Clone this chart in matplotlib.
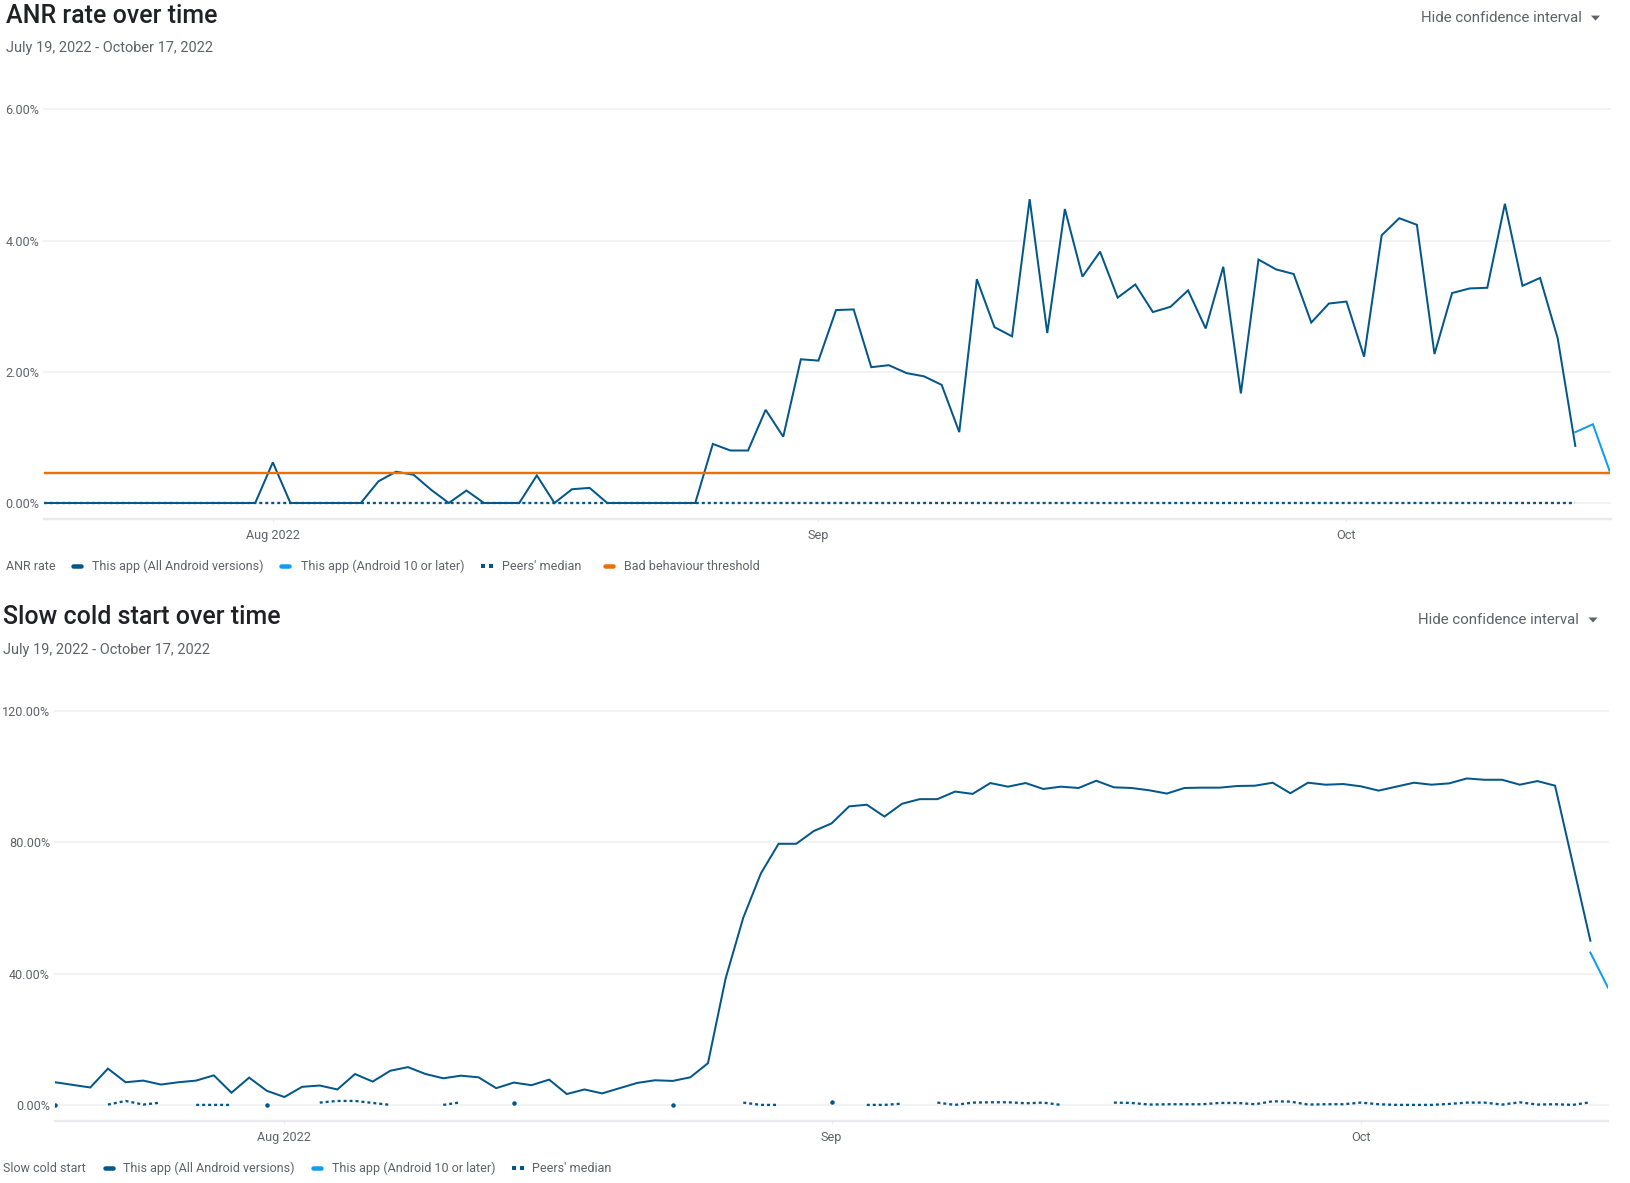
import numpy as np
import pandas as pd
import matplotlib
matplotlib.use('Agg')
import matplotlib.pyplot as plt
from matplotlib.lines import Line2D
from matplotlib.patches import Polygon

W, H = 1631, 1183
nan = np.nan

# ANR chart, daily values from Jul 19
anr_all = [0]*13 + [0.62] + [0]*5 + [0.33, 0.477, 0.43, 0.20, 0, 0.19, 0, 0, 0, 0.42, 0, 0.21, 0.23] + [0]*6 + [
    0.90, 0.80, 0.80, 1.42, 1.01, 2.19, 2.17, 2.94, 2.95, 2.07, 2.10, 1.98, 1.93, 1.80, 1.08, 3.41,
    2.68, 2.54, 4.63, 2.59, 4.48, 3.45, 3.83, 3.13, 3.33, 2.91, 2.99, 3.24, 2.66, 3.60, 1.67, 3.71,
    3.56, 3.49, 2.75, 3.04, 3.07, 2.23, 4.08, 4.34, 4.24, 2.27, 3.20, 3.27, 3.28, 4.56, 3.31, 3.43,
    2.51, 0.87]
anr_10 = [1.08, 1.20, 0.45]
anr_peers = [0]*88
anr_threshold = 0.46

# Slow cold start chart
cold_all = [6.9, 6.1, 5.3, 11.05, 6.9, 7.4, 6.2, 6.9, 7.4, 9.0, 3.7, 8.3, 4.3, 2.4, 5.5, 5.9, 4.7, 9.4,
    7.1, 10.4, 11.5, 9.4, 8.1, 8.9, 8.4, 5.1, 6.8, 6.0, 7.7, 3.3, 4.7, 3.5, 5.1, 6.7, 7.5, 7.3, 8.4,
    12.7, 38.5, 57.0, 70.5, 79.5, 79.5, 83.4, 85.7, 90.9, 91.4, 87.8, 91.7, 93.1, 93.1, 95.4, 94.7,
    98.0, 96.9, 98.0, 96.2, 96.9, 96.5, 98.7, 96.7, 96.5, 95.8, 94.8, 96.5, 96.6, 96.6, 97.1, 97.2,
    98.1, 94.9, 98.1, 97.5, 97.7, 97.0, 95.7, 96.9, 98.1, 97.5, 97.9, 99.4, 99.0, 99.0, 97.5, 98.6,
    97.2, 73.6, 50.0]
cold_10 = [46.4, 35.7]
cold_peers = [0.0, nan, nan, 0.1, 1.2, 0.1, 0.7, nan, 0.0, 0.0, 0.0, nan, 0.0, nan, nan, 0.7, 1.2, 1.2,
    0.6, 0.0, nan, nan, 0.0, 0.8, nan, nan, 0.7, nan, nan, nan, nan, nan, nan, nan, nan, 0.0, nan, nan,
    nan, 0.7, 0.0, 0.0, nan, nan, 0.8, nan, 0.0, 0.0, 0.4, nan, 0.7, 0.0, 0.7, 0.8, 0.8, 0.5, 0.7, 0.0,
    nan, nan, 0.7, 0.6, 0.1, 0.2, 0.2, 0.2, 0.6, 0.6, 0.2, 1.1, 1.0, 0.1, 0.2, 0.2, 0.7, 0.2, 0.0, 0.0,
    0.0, 0.3, 0.7, 0.7, 0.1, 0.8, 0.1, 0.2, 0.0, 0.8]

title_dark = '#202124'
grey = '#5f6368'
dark = '#03578a'
light = '#0f9df2'
orange = '#e8710a'
grid_c = '#f1f3f4'
axis_c = '#e8eaed'

plt.rcParams['font.family'] = ['Roboto', 'DejaVu Sans']
fig = plt.figure(figsize=(W/100, H/100), dpi=100, facecolor='white')


def fx(x): return x/W
def fy(y): return 1 - y/H
def px(p): return p*0.72


def label(x, y, s, size, color=grey, ha='left', **kw):
    fig.text(fx(x), fy(y), s, fontsize=px(size), color=color, ha=ha, va='center', **kw)


def swatch(x0, y, color, dotted=False):
    if dotted:
        for x in (x0+2, x0+10):
            fig.add_artist(Line2D([fx(x)], [fy(y)], marker='s', ms=px(4), color=color, mew=0))
    else:
        fig.add_artist(Line2D([fx(x0+2), fx(x0+10)], [fy(y), fy(y)], color=color, lw=px(4.5),
                              solid_capstyle='round'))


def make_panel(left, right, top_y, zero_y, axis_y, top_val, ticks, tick_fmt, all_v, v10, peers, threshold=None):
    per_px = top_val/(zero_y-top_y)
    ymin = -(axis_y-zero_y)*per_px
    ax = fig.add_axes([fx(left), fy(axis_y), fx(right-left), (axis_y-top_y)/H])
    ax.set_facecolor('none')
    days_all = pd.date_range('2022-07-19', periods=len(all_v))
    days_10 = pd.date_range(days_all[-1], periods=len(v10))
    days_peers = pd.date_range('2022-07-19', periods=len(peers))
    ax.set_xlim(days_all[0], days_10[-1])
    ax.set_ylim(ymin, top_val)
    for t in ticks:
        ax.axhline(t, color=grid_c, lw=px(2), zorder=1, clip_on=False)
    pv = np.array(peers, dtype=float)
    ax.plot(days_peers, pv, color=dark, lw=px(2.3), ls=(0, (1.3, 1.3)), zorder=2)
    # lone peer values have no segment to draw, so mark them
    for i, v in enumerate(pv):
        a = pv[i-1] if i > 0 else nan
        b = pv[i+1] if i < len(pv)-1 else nan
        if not np.isnan(v) and np.isnan(a) and np.isnan(b):
            ax.plot([days_peers[i]], [v], marker='o', ms=px(4.5), color=dark, mew=0, zorder=2)
    ax.plot(days_all, all_v, color=dark, lw=px(2), zorder=3, solid_joinstyle='miter')
    ax.plot(days_10, v10, color=light, lw=px(2), zorder=3, solid_joinstyle='miter')
    if threshold is not None:
        ax.axhline(threshold, color=orange, lw=px(2.4), zorder=4)
    for s in ['top', 'left', 'right']:
        ax.spines[s].set_visible(False)
    ax.spines['bottom'].set_color(axis_c)
    ax.spines['bottom'].set_linewidth(px(2.4))
    ax.set_yticks(ticks)
    ax.set_yticklabels([tick_fmt % t for t in ticks], fontsize=px(12.6), color=grey)
    ax.tick_params(axis='y', length=0, pad=px(5))
    xt = pd.to_datetime(['2022-08-01', '2022-09-01', '2022-10-01'])
    ax.set_xticks(xt)
    ax.set_xticklabels(['Aug 2022', 'Sep', 'Oct'], fontsize=px(12.6), color=grey)
    ax.tick_params(axis='x', length=px(3), width=px(1), color=axis_c, pad=px(7))
    return ax


# --- ANR rate
make_panel(44, 1610.5, 109.3, 503.0, 518.7, 6, [0, 2, 4, 6], '%.2f%%', anr_all, anr_10, anr_peers, anr_threshold)
label(6, 16, 'ANR rate over time', 25, title_dark, fontweight='medium')
label(6, 48, 'July 19, 2022 - October 17, 2022', 14.5)
label(1421, 17.6, 'Hide confidence interval', 15)
fig.add_artist(Polygon([[fx(1591), fy(15.6)], [fx(1600), fy(15.6)], [fx(1595.5), fy(20.6)]], closed=True,
                       color=grey, lw=0, transform=fig.transFigure))
label(6, 566.4, 'ANR rate', 12.55)
swatch(71, 565.6, dark)
label(92, 566.4, 'This app (All Android versions)', 12.55)
swatch(279, 565.6, light)
label(300.7, 566.4, 'This app (Android 10 or later)', 12.55)
swatch(481, 565.6, dark, dotted=True)
label(501.6, 566.4, "Peers' median", 12.55)
swatch(603, 565.6, orange)
label(624.5, 566.4, 'Bad behaviour threshold', 12.55)

# --- Slow cold start
make_panel(55, 1608, 710.8, 1104.9, 1120.8, 120, [0, 40, 80, 120], '%.2f%%', cold_all, cold_10, cold_peers)
label(3, 617.5, 'Slow cold start over time', 25, title_dark, fontweight='medium')
label(3, 649.6, 'July 19, 2022 - October 17, 2022', 14.5)
label(1418.3, 619.5, 'Hide confidence interval', 15)
fig.add_artist(Polygon([[fx(1588.5), fy(617.5)], [fx(1597.5), fy(617.5)], [fx(1593), fy(622.5)]], closed=True,
                       color=grey, lw=0, transform=fig.transFigure))
label(3, 1168, 'Slow cold start', 12.55)
swatch(103, 1167.5, dark)
label(123.4, 1168, 'This app (All Android versions)', 12.55)
swatch(311, 1167.5, light)
label(331.6, 1168, 'This app (Android 10 or later)', 12.55)
swatch(512, 1167.5, dark, dotted=True)
label(532.4, 1168, "Peers' median", 12.55)

fig.savefig('out.png', dpi=100)
